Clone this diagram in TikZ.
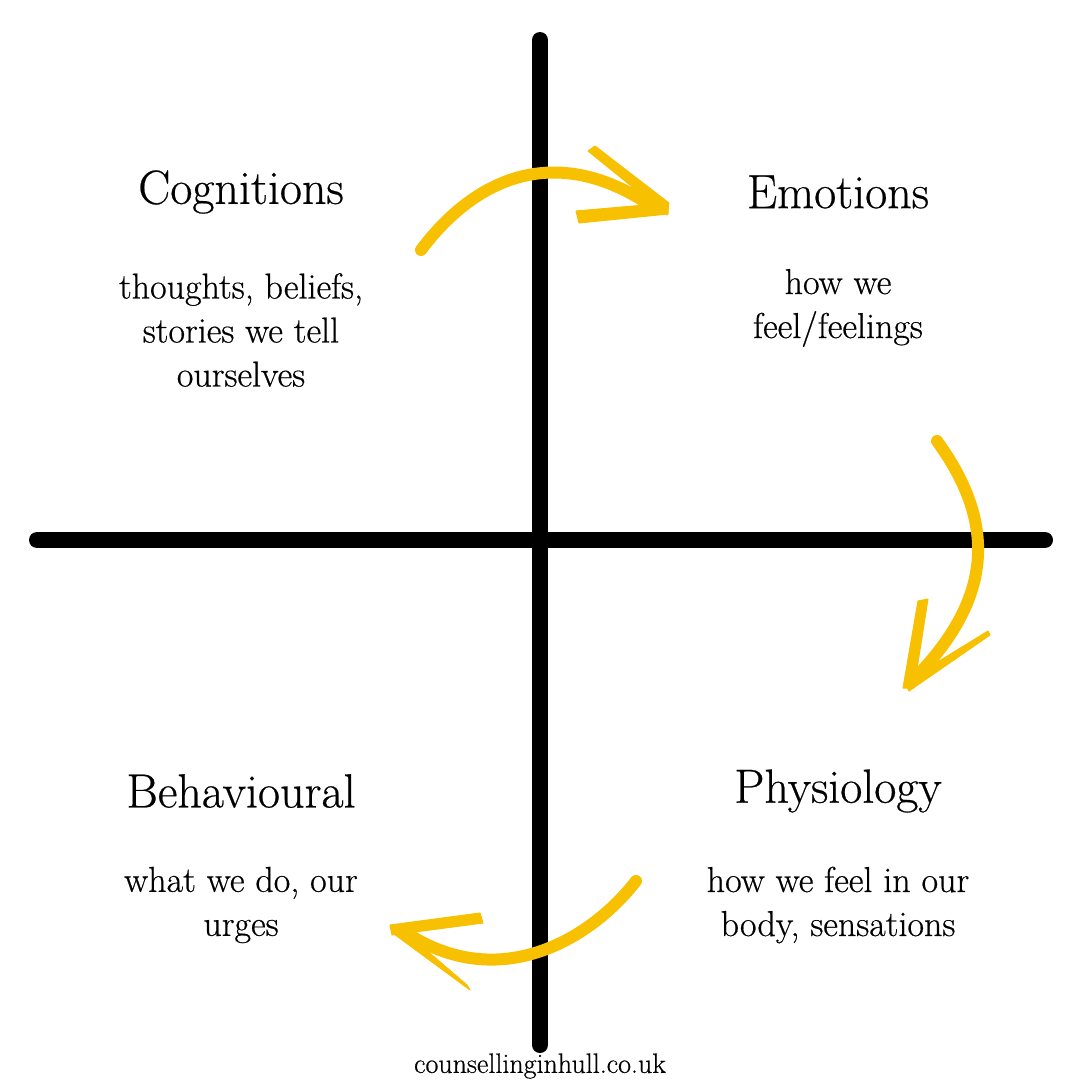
\documentclass[tikz,border=0pt]{standalone}
\usepackage{fontspec}
\newfontfamily\pfont{Latin Modern Roman}[FakeBold=0.5]
\definecolor{arrowyellow}{RGB}{247,192,0}
\begin{document}
\begin{tikzpicture}[x=1pt,y=-1pt,
  axis/.style={line width=16pt,line cap=round,black},
  shaft/.style={line width=12pt,line cap=round,arrowyellow},
  barb/.style={fill=arrowyellow,draw=arrowyellow,line width=1pt,line join=round},
  title/.style={font=\pfont\fontsize{48}{56}\selectfont,inner sep=0pt},
  sub/.style={font=\pfont\fontsize{36}{44}\selectfont,align=center,inner sep=0pt},
  foot/.style={font=\pfont\fontsize{28}{32}\selectfont,inner sep=0pt}]
\useasboundingbox (0,0) rectangle (1080,1080);
\fill[white] (0,0) rectangle (1080,1080);
% axes
\draw[axis] (540,40) -- (540,1045);
\draw[axis] (37,540) -- (1045,540);
% texts
\node[title] (cog) at (241,192) {Cognitions};
\node[sub] (cogd) at (241,330) {thoughts, beliefs,\\stories we tell\\ourselves};
\node[title] (emo) at (838,192) {Emotions};
\node[sub] (emod) at (838,308) {how we\\feel/feelings};
\node[title] (beh) at (241,791) {Behavioural};
\node[sub] (behd) at (241,905) {what we do, our\\urges};
\node[title] (phy) at (838,791) {Physiology};
\node[sub] (phyd) at (838,905) {how we feel in our\\body, sensations};
\node[foot] (web) at (540,1066) {counsellinginhull.co.uk};
% top arrow
\draw[shaft] (421,250) .. controls (475,178) and (555,142) .. (650,205);
\fill[barb] (588,151) -- (595,146) -- (669,203) -- (667,215) -- cycle;
\fill[barb] (576,211) -- (668,203) -- (668,214) -- (579,223) -- cycle;
% right arrow
\draw[shaft] (937,441) .. controls (998,525) and (992,600) .. (913,680);
\fill[barb] (918,601) -- (928,599) -- (914,688) -- (903,688) -- cycle;
\fill[barb] (988,631) -- (990,635) -- (909,691) -- (905,682) -- cycle;
% bottom arrow
\draw[shaft] (636,881) .. controls (592,938) and (500,995) .. (405,932);
\fill[barb] (480,913) -- (483,923) -- (392,935) -- (390,925) -- cycle;
\fill[barb] (467,985) -- (470,990) -- (394,934) -- (397,925) -- cycle;
\end{tikzpicture}
\end{document}
